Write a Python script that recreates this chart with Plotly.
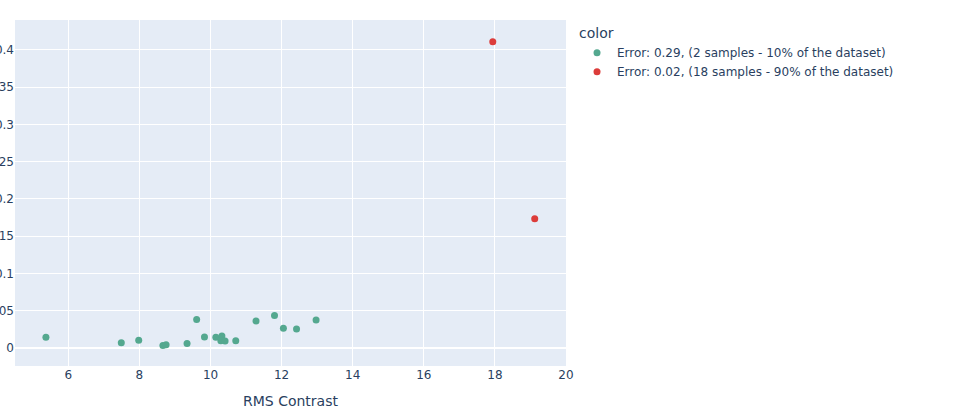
import plotly.graph_objects as go

green_x = [5.37, 7.49, 7.98, 8.66, 8.75, 9.34, 9.61, 9.83, 10.15, 10.32, 10.29, 10.41, 10.71, 11.28, 11.80, 12.05, 12.42, 12.97]
green_y = [0.0144, 0.0072, 0.0104, 0.0036, 0.0045, 0.0063, 0.0383, 0.0149, 0.0144, 0.0162, 0.0099, 0.0095, 0.0099, 0.0365, 0.0437, 0.0266, 0.0257, 0.0378]
red_x = [17.94, 19.12]
red_y = [0.411, 0.1736]

green_name = "Error: 0.29, (2 samples - 10% of the dataset)"
red_name = "Error: 0.02, (18 samples - 90% of the dataset)"

fig = go.Figure()
fig.add_trace(go.Scatter(x=green_x, y=green_y, mode="markers", name=green_name,
                         marker=dict(color="#54a88f", size=7)))
fig.add_trace(go.Scatter(x=red_x, y=red_y, mode="markers", name=red_name,
                         marker=dict(color="#dc3c3a", size=7)))

fig.update_layout(
    width=953, height=418,
    template="plotly",
    font=dict(family="DejaVu Sans, Verdana, sans-serif", size=12, color="#2a3f5f"),
    margin=dict(l=15, r=387, t=20, b=52),
    legend=dict(title=dict(text="color"), tracegroupgap=0),
    xaxis=dict(title=dict(text="RMS Contrast"), range=[4.5, 20], automargin=False,
               dtick=2, tick0=0),
    yaxis=dict(range=[-0.024, 0.44], automargin=False, dtick=0.05),
)
fig.write_html("out.html", config={"displayModeBar": False},
               post_script="document.body.style.margin='0';")
